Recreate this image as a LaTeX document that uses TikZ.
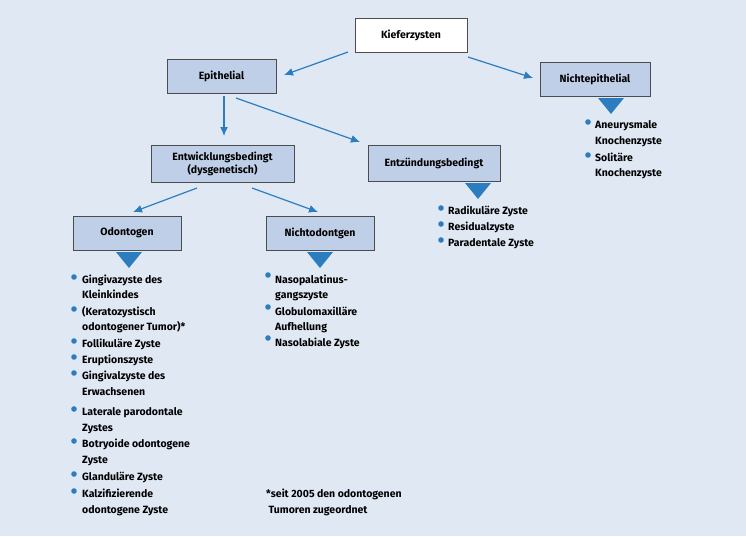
\documentclass[tikz,border=0pt]{standalone}
\usepackage{fontspec}
\setmainfont{Fira Sans}
\usetikzlibrary{arrows.meta}
\begin{document}
\begin{tikzpicture}[x=1pt,y=-1pt,
 box/.style={draw=black!70,line width=0.8pt,fill=boxc,minimum height=34pt,align=center,font=\bfseries\fontsize{10.5}{13}\selectfont},
 arr/.style={draw=bl,line width=1.2pt,-{Latex[length=9pt,width=8pt]}},
 txt/.style={anchor=base west,inner sep=0pt,font=\bfseries\fontsize{10.5}{13}\selectfont}]
\definecolor{bg}{HTML}{E0E8F4}\definecolor{boxc}{HTML}{BFCFE8}\definecolor{bl}{HTML}{2B7DC0}
\fill[bg] (0,0) rectangle (746,536);
\useasboundingbox (0,0) rectangle (746,536);
\node[box,fill=white,minimum width=112pt] (k) at (411,35) {Kieferzysten};
\node[box,minimum width=109pt] (ep) at (221.5,76.5) {Epithelial};
\node[box,minimum width=110pt] (ne) at (595,79) {Nichtepithelial};
\node[box,minimum width=143pt,minimum height=37pt,inner sep=1pt] (ew) at (222.5,163.5) {Entwicklungsbedingt\\(dysgenetisch)};
\node[box,minimum width=132pt,minimum height=36pt] (ez) at (434,163) {Entzündungsbedingt};
\node[box,minimum width=108pt] (od) at (127,233) {Odontogen};
\node[box,minimum width=108pt] (no) at (320,233) {Nichtodontgen};
\coordinate (s1) at (348,52);\coordinate (a1) at (284,75);
\coordinate (s2) at (468,57);\coordinate (a2) at (533,78);
\coordinate (s3) at (224,96);\coordinate (a3) at (224,136);
\coordinate (s4) at (236,98);\coordinate (a4) at (360,142);
\coordinate (s5) at (197,188);\coordinate (a5) at (133,212);
\coordinate (s6) at (252,188);\coordinate (a6) at (318,212);
\foreach \i in {1,...,6} \draw[arr] (s\i) -- (a\i);
\foreach \x/\y in {129/252,320/252,478/183,611/98} \fill[bl] (\x-13,\y) -- (\x+13,\y) -- (\x,\y+16) -- cycle;
\foreach \y/\t [count=\i] in {
 279/Gingivazyste des,294/Kleinkindes,311/(Keratozystisch,326/odontogener Tumor)*,343/Follikuläre Zyste,359/Eruptionszyste,375/Gingivalzyste des,391/Erwachsenen,411/Laterale parodontale,427/Zystes,443/Botryoide odontogene,459/Zyste,476/Glanduläre Zyste,493/Kalzifizierende,509/odontogene Zyste}
 \node[txt] (o\i) at (82,\y+4) {\t};
\foreach \y in {279,311,343,359,375,411,443,476,493} \fill[bl] (74,\y-2) circle (2.8);
\foreach \y/\t [count=\i] in {279/Nasopalatinus-,294/gangszyste,311/Globulomaxilläre,326/Aufhellung,342/Nasolabiale Zyste}
 \node[txt] (n\i) at (275,\y+4) {\t};
\foreach \y in {277,309,340} \fill[bl] (268,\y-2) circle (2.8);
\foreach \y/\t [count=\i] in {210/Radikuläre Zyste,226/Residualzyste,242/Paradentale Zyste}
 \node[txt] (r\i) at (448,\y+4) {\t};
\foreach \y in {210,226,242} \fill[bl] (441,\y-2) circle (2.8);
\foreach \y/\t [count=\i] in {124/Aneurysmale,140/Knochenzyste,157/Solitäre,172/Knochenzyste}
 \node[txt] (q\i) at (595,\y+4) {\t};
\foreach \y in {124,157} \fill[bl] (588,\y-2) circle (2.8);
\node[txt] (f1) at (266,497) {*seit 2005 den odontogenen};
\node[txt] (f2) at (266,513) {\ Tumoren zugeordnet};
\end{tikzpicture}
\end{document}
